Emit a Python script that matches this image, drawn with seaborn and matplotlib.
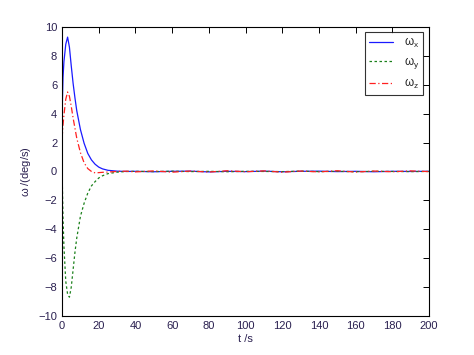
import numpy as np
import pandas as pd
import matplotlib
matplotlib.use("Agg")
import matplotlib.pyplot as plt
import seaborn as sns

# time samples (s) and angular rates (deg/s)
t = [0, 0.5, 1, 2, 3, 4, 5, 6, 7, 8, 10, 12, 14, 16, 18, 20, 22, 25, 30, 35,
     40, 50, 60, 70, 80, 90, 100, 110, 120, 130, 140, 150, 160, 170, 180, 190, 200]
wx = [4.0, 6.5, 7.6, 8.8, 9.3, 8.6, 7.3, 6.1, 5.1, 4.2, 2.9, 1.95, 1.25, 0.8, 0.5, 0.3, 0.18, 0.08, 0.02, 0.0,
      0.01, -0.02, 0.01, 0.02, -0.03, 0.01, -0.01, 0.02, -0.02, 0.01, 0.02, -0.01, 0.01, -0.02, 0.01, 0.0, 0.01]
wy = [0.0, -3.2, -5.2, -7.6, -8.5, -8.7, -8.0, -6.8, -5.6, -4.6, -3.1, -2.2, -1.5, -1.0, -0.7, -0.45, -0.3, -0.15, -0.05, 0.0,
      0.01, -0.01, 0.02, -0.01, 0.01, -0.02, 0.01, 0.0, -0.01, 0.02, -0.01, 0.01, -0.02, 0.01, 0.0, -0.01, 0.0]
wz = [2.3, 3.2, 3.9, 5.0, 5.5, 5.2, 4.5, 3.7, 3.0, 2.3, 1.3, 0.6, 0.2, 0.0, -0.1, -0.08, -0.06, -0.04, 0.0, 0.02,
      -0.03, 0.04, -0.05, 0.03, -0.04, 0.05, -0.02, 0.04, -0.05, 0.03, -0.03, 0.05, -0.04, 0.03, -0.02, 0.04, -0.01]
labels = [r'$\omega_x$', r'$\omega_y$', r'$\omega_z$']

df = pd.DataFrame({'t': t, 'wx': wx, 'wy': wy, 'wz': wz})

sns.set_style("white")
plt.rcParams['font.family'] = ['Liberation Sans', 'DejaVu Sans']
plt.rcParams['mathtext.fontset'] = 'custom'
plt.rcParams['mathtext.rm'] = 'Liberation Sans'
plt.rcParams['mathtext.it'] = 'Liberation Sans'

fig = plt.figure(figsize=(4.74, 3.55), dpi=100)
ax = fig.add_axes([0.131, 0.110, 0.774, 0.814])

sns.lineplot(data=df, x='t', y='wx', ax=ax, color='#1a1aff', lw=0.9, label=labels[0])
sns.lineplot(data=df, x='t', y='wy', ax=ax, color='#1a801a', lw=0.9, label=labels[1])
sns.lineplot(data=df, x='t', y='wz', ax=ax, color='#ff2020', lw=0.9, label=labels[2])
ax.lines[1].set_dashes([2, 2])
ax.lines[2].set_dashes([5, 2, 1, 2])

ax.set_xlim(0, 200)
ax.set_ylim(-10, 10)
ax.set_xticks(np.arange(0, 201, 20))
ax.set_yticks(np.arange(-10, 11, 2))
ax.tick_params(direction='in', length=4, width=0.7, top=True, right=True,
               labelsize=8, labelcolor='#2a2050', colors='black')
ax.tick_params(axis='both', labelcolor='#2a2050')
for s in ax.spines.values():
    s.set_visible(True)
    s.set_linewidth(0.8)
    s.set_color('black')

ax.set_xlabel('t /s', fontsize=8, color='#2a2050', labelpad=2)
ax.set_ylabel(r'$\omega$ /(deg/s)', fontsize=8, color='#2a2050', labelpad=4)

leg = ax.legend(loc='upper right', fontsize=8.5, frameon=True, fancybox=False,
                edgecolor='black', handlelength=2.0, handletextpad=0.9,
                borderpad=0.35, labelspacing=0.45, borderaxespad=0,
                bbox_to_anchor=(0.984, 0.983))
leg.get_frame().set_linewidth(0.8)

fig.savefig('out.png', dpi=100)
